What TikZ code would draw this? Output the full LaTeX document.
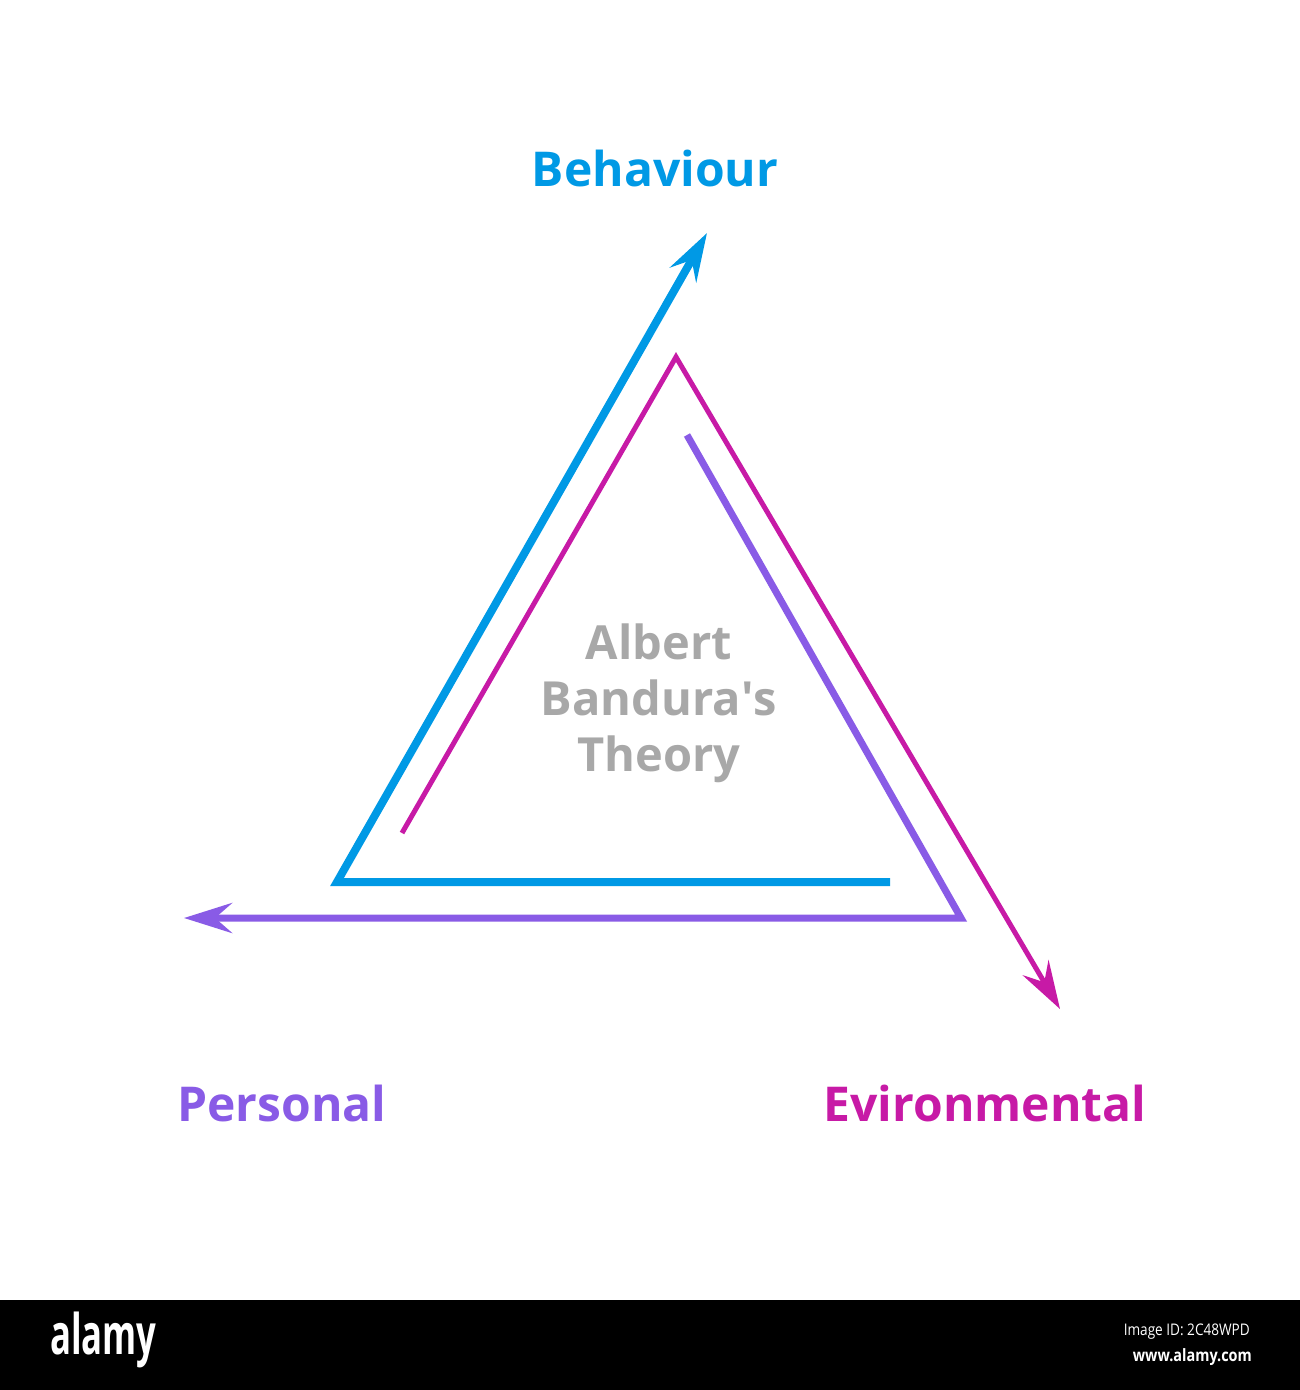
\documentclass[tikz,border=0pt]{standalone}
\usepackage{fontspec}
\setmainfont{Open Sans}
\usetikzlibrary{arrows.meta}
\definecolor{cblue}{RGB}{0,153,229}
\definecolor{cmag}{RGB}{199,26,166}
\definecolor{cpur}{RGB}{137,91,230}
\definecolor{cgray}{RGB}{168,168,168}
\tikzset{
  tip/.style={-{Stealth[length=48pt,width=30pt,inset=17pt]}},
  lbl/.style={font=\fontsize{48}{57}\selectfont\bfseries, inner sep=0pt},
  side/.style={line join=miter, line cap=butt}
}
\begin{document}
\begin{tikzpicture}[x=1pt,y=-1pt]
\useasboundingbox (0,0) rectangle (1300,1390);
\fill[white] (0,0) rectangle (1300,1300);
\fill[black] (0,1300) rectangle (1300,1390);
% coordinates
\coordinate (bstart) at (890,882);
\coordinate (bcorner) at (337,882);
\coordinate (btip) at (707,233);
\coordinate (mstart) at (402,833);
\coordinate (mapex) at (676,357);
\coordinate (mtip) at (1060,1009);
\coordinate (pstart) at (687,435);
\coordinate (pcorner) at (961,918);
\coordinate (ptip) at (184,918);
% connectors
\draw[side, cblue, line width=8pt, tip] (bstart) -- (bcorner) -- (btip);
\draw[side, cmag, line width=5pt, tip] (mstart) -- (mapex) -- (mtip);
\draw[side, cpur, line width=7pt, tip] (pstart) -- (pcorner) -- (ptip);
% labels
\node[lbl, text=cblue] (beh) at (655,168) {Behaviour};
\node[lbl, text=cpur] (per) at (282,1103) {Personal};
\node[lbl, text=cmag] (env) at (985,1103) {Evironmental};
\node[lbl, text=cgray, align=center, font=\fontsize{47}{56}\selectfont\bfseries] (theory) at (659,703) {Albert\\Bandura\textquotesingle s\\Theory};
% watermark bar
\node[inner sep=0pt, text=white, font=\fontsize{56}{56}\selectfont\bfseries, xscale=0.62, anchor=west] (alamy) at (50,1340) {alamy};
\node[inner sep=0pt, text=white, font=\fontsize{16}{16}\selectfont, xscale=0.85, anchor=east] (imgid) at (1250,1332) {Image ID: 2C48WPD};
\node[inner sep=0pt, text=white, font=\fontsize{17}{17}\selectfont\bfseries, xscale=0.85, anchor=east] (www) at (1252,1357) {www.alamy.com};
\end{tikzpicture}
\end{document}
